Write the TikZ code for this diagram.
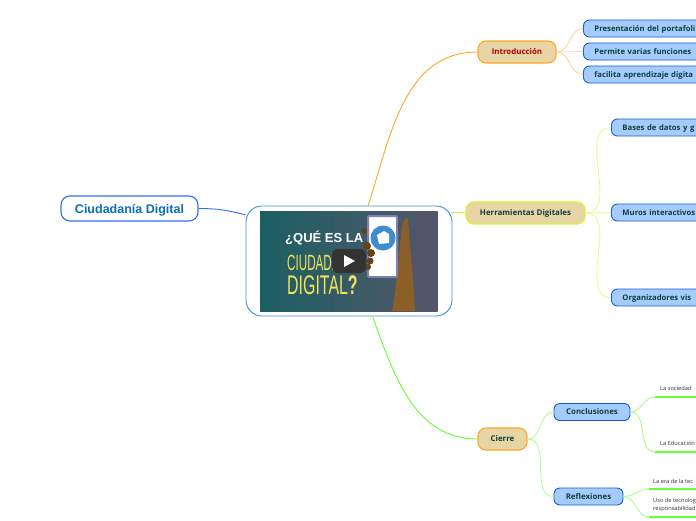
\documentclass[tikz,border=0pt]{standalone}
\usepackage{fontspec}
\setmainfont{Open Sans}
\newfontfamily\arialfont{Liberation Sans}
\usepackage{tikz}
\usetikzlibrary{calc,shapes.geometric}
\definecolor{mainblue}{HTML}{2F6FF0}
\definecolor{framblue}{HTML}{3F8FDC}
\definecolor{titleblue}{HTML}{0B6FB3}
\definecolor{sand}{HTML}{E8D5A6}
\definecolor{topicorange}{HTML}{FFA726}
\definecolor{topiclime}{HTML}{D6F527}
\definecolor{topicgreen}{HTML}{66FF33}
\definecolor{subfill}{HTML}{A6CCFF}
\definecolor{subline}{HTML}{0F5FD6}
\definecolor{inktext}{HTML}{0C3F3F}
\definecolor{tealdark}{HTML}{1B5F63}
\definecolor{greyright}{HTML}{56566A}
\definecolor{handbrown}{HTML}{8A5F28}
\definecolor{signyellow}{HTML}{F2E35A}

\begin{document}
\begin{tikzpicture}[x=1pt,y=-1pt,
    title/.style={draw=mainblue, line width=1.1pt, fill=white, rounded corners=9pt, minimum width=137pt, minimum height=25pt, inner sep=0pt, text height=9pt, text depth=0pt, text=titleblue, font=\arialfont\bfseries\fontsize{12.5}{14}\selectfont},
    topic/.style={draw=topicorange, fill=sand, line width=1.1pt, rounded corners=8pt, minimum height=22pt, inner sep=0pt, text height=5.5pt, text depth=0pt, text=inktext, font=\bfseries\fontsize{7.9}{9}\selectfont},
    sub/.style={draw=subline, fill=subfill, line width=.9pt, rounded corners=6pt, minimum height=17pt, inner sep=0pt, text height=5.5pt, text depth=0pt, text=inktext, font=\bfseries\fontsize{7.9}{9}\selectfont},
    open/.style={sub, minimum width=160pt, anchor=west, align=left, text width=138pt, font=\bfseries\fontsize{7.7}{9}\selectfont},
    leaf/.style={anchor=west, inner sep=0pt, text=black!80, align=left, font=\fontsize{5.7}{8}\selectfont},
    leafline/.style={topicgreen, line width=1.4pt},
    link/.style={line width=.9pt},
    twig/.style={line width=.7pt}]
    \useasboundingbox (0,0) rectangle (696,520);
    \fill[white] (0,0) rectangle (696,520);
    % Nodes
    \node[title] (title) at (129.5,208.5) {Ciudadanía Digital};
    \node[draw=framblue, line width=.9pt, fill=white, rounded corners=16pt, minimum width=206pt, minimum height=110pt] (central) at (349,261) {};

    \node[topic, minimum width=78pt, text=red!70!black] (intro) at (517,52) {Introducción};
    \node[topic, minimum width=119pt, draw=topiclime] (tools) at (525.5,213) {Herramientas Digitales};
    \node[topic, minimum width=49pt] (close) at (502.5,439) {Cierre};

    \node[open] (present) at (583,28.5) {Presentación del portafoli};
    \node[open] (funcs) at (583,51.5) {Permite varias funciones};
    \node[open] (learn) at (583,74.5) {facilita aprendizaje digita};

    \node[open] (bases) at (611,127.5) {Bases de datos y g};
    \node[open] (walls) at (611,212.5) {Muros interactivos};
    \node[open] (organ) at (611,297.5) {Organizadores vis};

    \node[sub, minimum width=76pt] (concl) at (592,412) {Conclusiones};
    \node[sub, minimum width=69pt] (refl) at (588.5,496.5) {Reflexiones};

    \node[leaf] (society) at (660,388) {La sociedad};
    \node[leaf] (educ) at (660,443) {La Educación};
    \node[leaf] (era) at (653,481.5) {La era de la tec};
    \node[leaf] (uso) at (653,505) {Uso de tecnolog\\responsabilidad};

    \coordinate (societyEnd) at (655,397);
    \coordinate (educEnd) at (655,452);
    \coordinate (eraEnd) at (649,489);
    \coordinate (usoEnd) at (649,517);

    % Image
    \shade[left color=tealdark, right color=greyright] (260,211) rectangle (437.5,311);
    \fill[handbrown] (392,311) .. controls (396,295) and (399,250) .. (402,226) .. controls (404,219) and (407,216) .. (408,219) .. controls (409,240) and (414,280) .. (415,311) -- cycle;
    \node[white, font=\arialfont\bfseries\fontsize{13}{15}\selectfont, anchor=west, inner sep=0pt] (ask) at (285,238) {¿QUÉ ES LA};
    \node[signyellow, font=\arialfont\fontsize{22}{24}\selectfont, anchor=west, inner sep=0pt] (city) at (287,261) {\scalebox{.53}[1]{CIUDADANÍA}};
    \node[signyellow, font=\arialfont\fontsize{27}{29}\selectfont, anchor=west, inner sep=0pt] (digi) at (287,285) {\scalebox{.59}[1]{DIGITAL\textbf{?}}};
    \draw[fill=white, draw=black!60!blue!50, line width=2pt, rounded corners=1pt] (368,216) rectangle (397,277);
    \fill[cyan!60!blue!80] (383,238) circle (12.5);
    \fill[white] (377,235) -- (384,231) -- (389,234) -- (389,243) -- (379,244) -- cycle;
    \fill[handbrown!70!black] (364,231) circle (3) (367,246) circle (4) (371,253) circle (4) (370,261) circle (3.5) (368,267) circle (3);
    \fill[black!80, rounded corners=6pt] (332,249) rectangle (366,273);
    \fill[white] (344,255) -- (355,261) -- (344,267) -- cycle;

    % Arestas
    \draw[link, mainblue] (title.east) to[out=0, in=165] (central.156);
    \draw[link, topicorange] (central.71) to[out=72, in=180] (intro.west);
    \draw[link, topiclime] (central.25) -- (central.25 -| tools.west);
    \draw[link, topicgreen] (central.293) to[out=-70, in=180] (close.west);

    \draw[twig, topicorange!60] (intro.east) to[out=0, in=180] (present.west);
    \draw[twig, topicorange!45] (intro.east) -- (funcs.west);
    \draw[twig, topicorange!60] (intro.east) to[out=0, in=180] (learn.west);

    \draw[twig, topiclime!60] (tools.east) to[out=0, in=180] (bases.west);
    \draw[twig, topiclime!60] (tools.east) -- (walls.west);
    \draw[twig, topiclime!60] (tools.east) to[out=0, in=180] (organ.west);

    \draw[twig, topicgreen!60] (close.east) to[out=0, in=180] (concl.west);
    \draw[twig, topicgreen!60] (close.east) to[out=0, in=180] (refl.west);

    \draw[twig, topicgreen!70] (concl.east) to[out=0, in=180] (societyEnd);
    \draw[twig, topicgreen!70] (concl.east) to[out=0, in=180] (educEnd);
    \draw[twig, topicgreen!70] (refl.east) to[out=0, in=180] (eraEnd);
    \draw[twig, topicgreen!70] (refl.east) to[out=0, in=180] (usoEnd);

    \draw[leafline] (societyEnd) -- +(41,0);
    \draw[leafline] (educEnd) -- +(41,0);
    \draw[leafline] (eraEnd) -- +(47,0);
    \draw[leafline] (usoEnd) -- +(47,0);
\end{tikzpicture}
\end{document}
